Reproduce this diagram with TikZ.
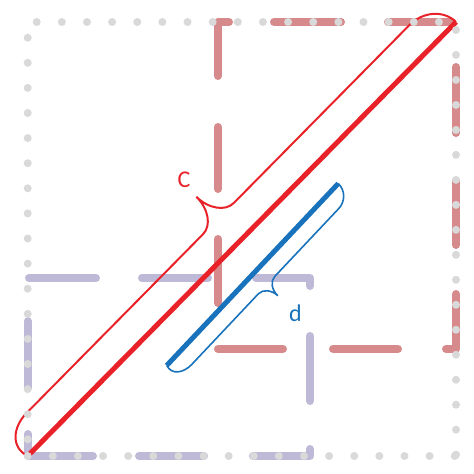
\documentclass[tikz,border=0pt]{standalone}
\usepackage{fontspec}
\setmainfont{Carlito}
\definecolor{dotc}{RGB}{217,217,217}
\definecolor{rdash}{RGB}{214,138,140}
\definecolor{pdash}{RGB}{189,185,215}
\definecolor{mainred}{RGB}{232,34,40}
\definecolor{mainblue}{RGB}{24,114,188}
\begin{document}
\begin{tikzpicture}[x=1pt,y=-1pt,
  dotgray/.style={fill=dotc},
  reddash/.style={draw=rdash,line width=8pt,line cap=round,line join=round},
  purpdash/.style={draw=pdash,line width=8pt,line cap=round,line join=round},
  thickred/.style={draw=mainred,line width=5pt},
  thinred/.style={draw=mainred,line width=2pt},
  thickblue/.style={draw=mainblue,line width=5pt},
  thinblue/.style={draw=mainblue,line width=1.6pt},
  lbl/.style={inner sep=0pt,font=\fontsize{24}{28}\selectfont}
]
\useasboundingbox (0,0) rectangle (474,474);
% red dashed square
\draw[reddash] (229,22) -- (218,22) -- (218,76);
\draw[reddash] (218,127) -- (218,189);
\draw[reddash] (218,239) -- (218,303);
\draw[reddash] (218,349) -- (283,349);
\draw[reddash] (333,349) -- (398,349);
\draw[reddash] (446,349) -- (456,349) -- (456,294);
\draw[reddash] (456,181) -- (456,245);
\draw[reddash] (456,67) -- (456,133);
\draw[reddash] (388,22) -- (452,22);
\draw[reddash] (274,22) -- (341,22);
% purple dashed square
\draw[purpdash] (29,278) -- (96,278);
\draw[purpdash] (142,278) -- (208,278);
\draw[purpdash] (256,278) -- (310,278) -- (310,286);
\draw[purpdash] (310,336) -- (310,401);
\draw[purpdash] (310,449) -- (310,456) -- (253,456);
\draw[purpdash] (139,456) -- (204,456);
\draw[purpdash] (93,456) -- (27.7,456) -- (27.7,434);
\draw[purpdash] (27.7,321) -- (27.7,388);
% main lines
\coordinate (A) at (27.7,456);
\coordinate (B) at (456,22);
\coordinate (C1) at (166.7,365.5);
\coordinate (D1) at (338.3,183.5);
\draw[thickred] (A) -- (B);
\draw[thickblue] (C1) -- (D1);
% red brace
\begin{scope}[shift={(A)},rotate=45.38,y=1pt]
\draw[thinred] (0,0) .. controls (-6,18.6) and (10.5,31) .. (30,31)
  -- (281,31) .. controls (293.1,31) and (303,44.9) .. (303,62)
  .. controls (303,44.9) and (312.9,31) .. (325,31)
  -- (574.8,31) .. controls (594.1,31) and (609.8,17.1) .. (609.8,0);
\end{scope}
% blue brace
\begin{scope}[shift={(C1)},rotate=46.68]
\draw[thinblue] (0,0) .. controls (-3.6,10.5) and (6.3,17.5) .. (18,17.5)
  -- (115,17.5) .. controls (121.6,17.5) and (127,24.4) .. (127,33)
  .. controls (127,24.4) and (132.4,17.5) .. (139,17.5)
  -- (232.1,17.5) .. controls (242,17.5) and (250.1,9.7) .. (250.1,0);
\end{scope}
% labels
\node[lbl,text=mainred] (labC) at (184,179.5) {C};
\node[lbl,text=mainblue] (labD) at (295.5,313.3) {d};
% gray dotted square
\foreach \i in {0,...,16} {
  \fill[dotgray] (36.7+\i*25.14,22) circle[radius=4pt];
  \fill[dotgray] (27.7,37.7+\i*25.1) circle[radius=4pt];
}
\foreach \i in {0,...,17} {
  \fill[dotgray] (27.7+\i*25.12,456) circle[radius=4pt];
  \fill[dotgray] (456,30+\i*24.98) circle[radius=4pt];
}
\end{tikzpicture}
\end{document}
